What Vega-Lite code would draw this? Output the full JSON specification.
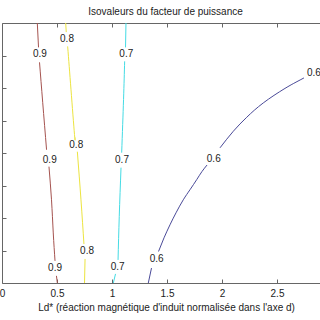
{
  "$schema": "https://vega.github.io/schema/vega-lite/v6.json",
  "width": 319,
  "height": 260,
  "autosize": "none",
  "padding": {"left": 2, "top": 23, "right": 0, "bottom": 37},
  "background": "white",
  "title": {
    "text": "Isovaleurs du facteur de puissance",
    "font": "Liberation Sans",
    "fontSize": 10,
    "fontWeight": "normal",
    "color": "#222",
    "anchor": "middle",
    "dx": 4,
    "offset": 6
  },
  "config": {
    "view": {"stroke": null},
    "axis": {
      "grid": false,
      "domainColor": "#666",
      "tickColor": "#666",
      "labelFont": "Liberation Sans",
      "titleFont": "Liberation Sans",
      "labelFontSize": 10,
      "titleFontSize": 10,
      "titleFontWeight": "normal",
      "labelColor": "#222",
      "titleColor": "#222"
    }
  },
  "datasets": {
    "lines": [
      {"c": "0.9", "s": 1, "x": 0.321, "y": 8.0},
      {"c": "0.9", "s": 1, "x": 0.332, "y": 7.25},
      {"c": "0.9", "s": 2, "x": 0.341, "y": 6.79},
      {"c": "0.9", "s": 2, "x": 0.37, "y": 5.56},
      {"c": "0.9", "s": 2, "x": 0.405, "y": 4.1},
      {"c": "0.9", "s": 3, "x": 0.427, "y": 3.58},
      {"c": "0.9", "s": 3, "x": 0.45, "y": 2.56},
      {"c": "0.9", "s": 3, "x": 0.466, "y": 1.54},
      {"c": "0.9", "s": 3, "x": 0.482, "y": 0.68},
      {"c": "0.9", "s": 4, "x": 0.495, "y": 0.22},
      {"c": "0.9", "s": 4, "x": 0.503, "y": 0.0},
      {"c": "0.8", "s": 1, "x": 0.579, "y": 8.0},
      {"c": "0.8", "s": 1, "x": 0.584, "y": 7.72},
      {"c": "0.8", "s": 2, "x": 0.597, "y": 7.28},
      {"c": "0.8", "s": 2, "x": 0.627, "y": 5.96},
      {"c": "0.8", "s": 2, "x": 0.659, "y": 4.57},
      {"c": "0.8", "s": 2, "x": 0.664, "y": 4.48},
      {"c": "0.8", "s": 3, "x": 0.685, "y": 4.04},
      {"c": "0.8", "s": 3, "x": 0.718, "y": 2.56},
      {"c": "0.8", "s": 3, "x": 0.745, "y": 1.2},
      {"c": "0.8", "s": 4, "x": 0.755, "y": 0.74},
      {"c": "0.8", "s": 4, "x": 0.75, "y": 0.0},
      {"c": "0.7", "s": 1, "x": 1.127, "y": 8.0},
      {"c": "0.7", "s": 1, "x": 1.123, "y": 7.25},
      {"c": "0.7", "s": 2, "x": 1.115, "y": 6.82},
      {"c": "0.7", "s": 2, "x": 1.105, "y": 5.65},
      {"c": "0.7", "s": 2, "x": 1.088, "y": 4.01},
      {"c": "0.7", "s": 3, "x": 1.082, "y": 3.55},
      {"c": "0.7", "s": 3, "x": 1.066, "y": 2.05},
      {"c": "0.7", "s": 3, "x": 1.055, "y": 0.71},
      {"c": "0.7", "s": 4, "x": 1.032, "y": 0.28},
      {"c": "0.7", "s": 4, "x": 1.012, "y": 0.0},
      {"c": "0.6", "s": 1, "x": 1.33, "y": 0.0},
      {"c": "0.6", "s": 1, "x": 1.359, "y": 0.46},
      {"c": "0.6", "s": 2, "x": 1.423, "y": 0.97},
      {"c": "0.6", "s": 2, "x": 1.473, "y": 1.39},
      {"c": "0.6", "s": 2, "x": 1.527, "y": 1.79},
      {"c": "0.6", "s": 2, "x": 1.582, "y": 2.16},
      {"c": "0.6", "s": 2, "x": 1.648, "y": 2.56},
      {"c": "0.6", "s": 2, "x": 1.709, "y": 2.87},
      {"c": "0.6", "s": 2, "x": 1.77, "y": 3.18},
      {"c": "0.6", "s": 2, "x": 1.818, "y": 3.43},
      {"c": "0.6", "s": 2, "x": 1.864, "y": 3.63},
      {"c": "0.6", "s": 3, "x": 1.982, "y": 4.16},
      {"c": "0.6", "s": 3, "x": 2.103, "y": 4.67},
      {"c": "0.6", "s": 3, "x": 2.225, "y": 5.1},
      {"c": "0.6", "s": 3, "x": 2.375, "y": 5.54},
      {"c": "0.6", "s": 3, "x": 2.564, "y": 5.97},
      {"c": "0.6", "s": 3, "x": 2.673, "y": 6.18},
      {"c": "0.6", "s": 3, "x": 2.745, "y": 6.31}
    ],
    "labels": [
      {"c": "0.9", "x": 0.345, "y": 7.04},
      {"c": "0.9", "x": 0.434, "y": 3.77},
      {"c": "0.9", "x": 0.482, "y": 0.46},
      {"c": "0.8", "x": 0.591, "y": 7.5},
      {"c": "0.8", "x": 0.675, "y": 4.26},
      {"c": "0.8", "x": 0.773, "y": 0.97},
      {"c": "0.7", "x": 1.13, "y": 7.04},
      {"c": "0.7", "x": 1.091, "y": 3.77},
      {"c": "0.7", "x": 1.052, "y": 0.5},
      {"c": "0.6", "x": 1.406, "y": 0.73},
      {"c": "0.6", "x": 1.925, "y": 3.83},
      {"c": "0.6", "x": 2.836, "y": 6.46}
    ]
  },
  "layer": [
    {
      "data": {"name": "lines"},
      "mark": {"type": "line", "strokeWidth": 1, "clip": true, "interpolate": "natural"},
      "encoding": {
        "x": {
          "field": "x", "type": "quantitative",
          "scale": {"domain": [0, 2.9], "nice": false, "zero": false},
          "axis": {
            "orient": "bottom",
            "values": [0, 0.5, 1, 1.5, 2, 2.5],
            "format": "~g",
            "tickSize": -4,
            "labelPadding": 9,
            "labelFlush": false,
            "labelBound": false,
            "labelOverlap": false,
            "title": "Ld* (réaction magnétique d'induit normalisée dans l'axe d)",
            "titleX": 164,
            "titlePadding": 4
          }
        },
        "y": {
          "field": "y", "type": "quantitative",
          "scale": {"domain": [0, 8], "nice": false, "zero": false},
          "axis": {
            "values": [1, 2, 3, 4, 5, 6, 7],
            "labels": false,
            "title": null,
            "tickSize": -4,
            "domain": true
          }
        },
        "color": {
          "field": "c", "type": "nominal",
          "scale": {"domain": ["0.9", "0.8", "0.7", "0.6"], "range": ["#a5534f", "#ece440", "#44dbe4", "#4a4a98"]},
          "legend": null
        },
        "detail": {"field": "s", "type": "nominal"},
        "order": {"field": "y", "type": "quantitative"}
      }
    },
    {
      "data": {"name": "labels"},
      "mark": {"type": "text", "font": "Liberation Sans", "fontSize": 10, "color": "#222", "baseline": "middle", "align": "center", "clip": true},
      "encoding": {
        "x": {
          "field": "x", "type": "quantitative",
          "axis": {
            "orient": "top",
            "values": [0, 0.5, 1, 1.5, 2, 2.5],
            "labels": false,
            "title": null,
            "tickSize": -4
          }
        },
        "y": {"field": "y", "type": "quantitative"},
        "text": {"field": "c", "type": "nominal"}
      }
    }
  ],
  "resolve": {"axis": {"x": "independent"}}
}
